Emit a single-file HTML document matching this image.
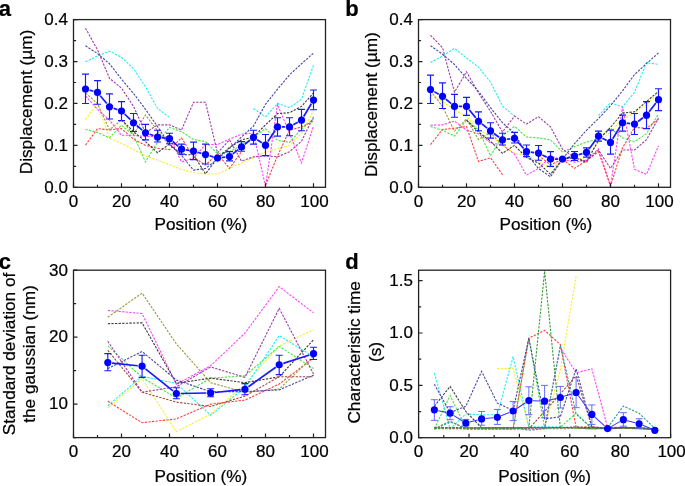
<!DOCTYPE html>
<html><head><meta charset="utf-8"><style>
html,body{margin:0;padding:0;background:#fff;}
svg{display:block;will-change:transform;}
text{font-family:"Liberation Sans", sans-serif;fill:#000;stroke:#000;stroke-width:0.22px;}
</style></head><body>
<svg width="685" height="486" viewBox="0 0 685 486">
<path d="M85.5 119.55 L97.5 103.45 L109.5 138.25 L121.5 143.28 L133.5 149.57 L145.5 155.86 L157.5 160.17 L169.5 164.79 L181.5 169.44 L193.5 172.5 L205.5 174.05 L217.5 174.05 L229.5 168.43 L241.5 162.98 L253.5 157.95 L265.5 151.66 L277.5 148.73 L289.5 145.54 L301.5 133.22 L313.5 110.58" stroke="#f4f030" stroke-width="1.1" fill="none" stroke-dasharray="2.3 1.3"/>
<path d="M85.5 61.82 L97.5 55.95 L109.5 51.13 L121.5 57.33 L133.5 68.65 L145.5 86.68 L157.5 108.48 L169.5 117.29" stroke="#22eef8" stroke-width="1.1" fill="none" stroke-dasharray="2.3 1.3"/>
<path d="M253.5 108.48 L265.5 116.87 L277.5 103.45 L289.5 107.64 L301.5 99.26 L313.5 65.3" stroke="#22eef8" stroke-width="1.1" fill="none" stroke-dasharray="2.3 1.3"/>
<path d="M85.5 129.44 L97.5 132.38 L109.5 137.83 L121.5 125.25 L133.5 135.31 L145.5 161.94 L157.5 142.15 L169.5 127.35 L181.5 131.62 L193.5 139.51 L205.5 141.6 L217.5 153.76 L229.5 151.66 L241.5 145.21 L253.5 136.99 L265.5 128.61 L277.5 140.34 L289.5 142.44 L301.5 129.02 L313.5 118.96" stroke="#44e844" stroke-width="1.1" fill="none" stroke-dasharray="2.3 1.3"/>
<path d="M85.5 95.9 L97.5 109.32 L109.5 120.22 L121.5 135.31 L133.5 135.31 L145.5 136.57 L157.5 136.57 L169.5 136.99 L181.5 161.94 L193.5 157.95 L205.5 144.54 L217.5 144.54 L229.5 139.09 L241.5 134.26 L253.5 133.01 L265.5 186.46 L277.5 104.41 L289.5 133.22 L301.5 162.98 L313.5 126.09" stroke="#ff44ff" stroke-width="1.1" fill="none" stroke-dasharray="2.3 1.3"/>
<path d="M85.5 145.17 L97.5 128.61 L109.5 129.86 L121.5 128.61 L133.5 139.09 L145.5 145.38 L157.5 148.31 L169.5 149.57 L181.5 137.83 L193.5 157.07 L205.5 165.08 L217.5 153.76 L229.5 168.43 L241.5 151.66" stroke="#ff4040" stroke-width="1.1" fill="none" stroke-dasharray="2.3 1.3"/>
<path d="M265.5 185.2 L277.5 155.86 L289.5 130.28 L301.5 126.93 L313.5 121.06" stroke="#ff4040" stroke-width="1.1" fill="none" stroke-dasharray="2.3 1.3"/>
<path d="M85.5 92.97 L97.5 103.45 L109.5 129.86 L121.5 119.93 L133.5 134.47 L145.5 114.94 L157.5 130.7 L169.5 145.38" stroke="#9a9a3a" stroke-width="1.1" fill="none" stroke-dasharray="2.3 1.3"/>
<path d="M121.5 119.8 L133.5 131.54 L145.5 141.6 L157.5 152.67 L169.5 144.03 L181.5 154.6 L193.5 154.77 L205.5 173.88 L217.5 157.95 L229.5 147.47 L241.5 139.92 L253.5 136.99 L265.5 124.83 L277.5 113.64 L289.5 112.67 L301.5 106.38 L313.5 92.97" stroke="#3a3a3a" stroke-width="1.1" fill="none" stroke-dasharray="2.3 1.3"/>
<path d="M85.5 28.19 L97.5 49.79 L109.5 78.3 L121.5 88.15 L133.5 106.38 L145.5 132.8 L157.5 124.83 L169.5 124.83 L181.5 130.07 L193.5 102.32 L205.5 102.32 L217.5 152.92 L229.5 139.92 L241.5 161.14 L253.5 156.86 L265.5 155.86 L277.5 156.86 L289.5 151.71 L301.5 141.18 L313.5 116.87" stroke="#a03aa8" stroke-width="1.1" fill="none" stroke-dasharray="2.3 1.3"/>
<path d="M85.5 45.76 L97.5 53.56 L109.5 63.75 L121.5 79.13 L133.5 93.39 L145.5 109.32 L157.5 126.51 L169.5 144.54 L181.5 155.44 L193.5 170.11 L205.5 168.43 L217.5 159.21 L229.5 148.31 L241.5 136.99 L253.5 126.09 L265.5 104.29 L277.5 89.2 L289.5 74.94 L301.5 63.75 L313.5 53.14" stroke="#4646a8" stroke-width="1.1" fill="none" stroke-dasharray="2.3 1.3"/>
<path d="M430.5 95.06 L442.5 101.48 L454.5 109.74 L466.5 116.45 L478.5 129.86 L490.5 135.73 L502.5 144.96 L514.5 153.13 L526.5 155.56 L538.5 161.1 L550.5 168.43 L562.5 161.31 L574.5 159.63 L586.5 157.53 L598.5 142.02 L610.5 131.96 L622.5 118.96 L634.5 112.93 L646.5 104.71 L658.5 92.34" stroke="#f4f030" stroke-width="1.1" fill="none" stroke-dasharray="2.3 1.3"/>
<path d="M430.5 62.57 L442.5 56.07 L454.5 48.28 L466.5 57.92 L478.5 67.18 L490.5 82.07 L502.5 106.13 L514.5 116.03" stroke="#22eef8" stroke-width="1.1" fill="none" stroke-dasharray="2.3 1.3"/>
<path d="M598.5 115.61 L610.5 102.82 L622.5 106.8 L634.5 92.34 L646.5 62.57 L658.5 64.42" stroke="#22eef8" stroke-width="1.1" fill="none" stroke-dasharray="2.3 1.3"/>
<path d="M430.5 126.51 L442.5 130.28 L454.5 136.15 L466.5 120.22 L478.5 129.86 L490.5 155.86 L502.5 135.73 L514.5 126.3 L526.5 136.99 L538.5 137.83 L550.5 139.92 L562.5 152.08 L574.5 146.63 L586.5 142.02 L598.5 139.09 L610.5 128.19 L622.5 137.83 L634.5 141.73 L646.5 133.64 L658.5 113.93" stroke="#44e844" stroke-width="1.1" fill="none" stroke-dasharray="2.3 1.3"/>
<path d="M430.5 125.25 L442.5 124.83 L454.5 121.06 L466.5 130.28 L478.5 133.64 L490.5 142.86 L502.5 144.96 L514.5 154.18 L526.5 175.14 L538.5 168.43 L550.5 156.69 L562.5 159.21 L574.5 162.15 L586.5 160.05 L598.5 148.73 L610.5 186.04 L622.5 106.8 L634.5 169.19 L646.5 174.43 L658.5 145.79" stroke="#ff44ff" stroke-width="1.1" fill="none" stroke-dasharray="2.3 1.3"/>
<path d="M430.5 144.62 L442.5 129.44 L454.5 128.35 L466.5 126.51 L478.5 161.47 L490.5 157.74 L502.5 174.72" stroke="#ff4040" stroke-width="1.1" fill="none" stroke-dasharray="2.3 1.3"/>
<path d="M538.5 155.44 L550.5 164.83 L562.5 159.21 L574.5 168.43 L586.5 160.47 L598.5 151.66 L610.5 186.04 L622.5 147.89 L634.5 127.35 L646.5 128.35 L658.5 118.96" stroke="#ff4040" stroke-width="1.1" fill="none" stroke-dasharray="2.3 1.3"/>
<path d="M430.5 90.87 L442.5 106.38 L454.5 131.12 L466.5 118.96 L478.5 139.51 L490.5 132.8 L502.5 145.38" stroke="#9a9a3a" stroke-width="1.1" fill="none" stroke-dasharray="2.3 1.3"/>
<path d="M466.5 120.22 L478.5 131.96 L490.5 141.18 L502.5 153.34 L514.5 145.38 L526.5 157.53 L538.5 162.98 L550.5 174.3 L562.5 159.21 L574.5 157.53 L586.5 162.56 L598.5 139.92 L610.5 127.35 L622.5 113.09 L634.5 111.84 L646.5 101.61 L658.5 91.29" stroke="#3a3a3a" stroke-width="1.1" fill="none" stroke-dasharray="2.3 1.3"/>
<path d="M430.5 35.32 L442.5 47.69 L454.5 92.13 L466.5 71.84 L478.5 92.97 L490.5 111.42 L502.5 131.96 L514.5 116.11 L526.5 124.08 L538.5 116.66 L550.5 126.93 L562.5 149.15 L574.5 157.53 L586.5 161.31 L598.5 149.99 L610.5 168.43 L622.5 149.99 L634.5 149.99 L646.5 139.67 L658.5 118.12" stroke="#a03aa8" stroke-width="1.1" fill="none" stroke-dasharray="2.3 1.3"/>
<path d="M430.5 45.59 L442.5 54.23 L454.5 64.46 L466.5 78.3 L478.5 91.29 L490.5 107.64 L502.5 122.74 L514.5 133.64 L526.5 153.76 L538.5 168.43 L550.5 176.82 L562.5 159.21 L574.5 143.7 L586.5 130.28 L598.5 118.54 L610.5 105.76 L622.5 90.87 L634.5 74.61 L646.5 63.5 L658.5 52.93" stroke="#4646a8" stroke-width="1.1" fill="none" stroke-dasharray="2.3 1.3"/>
<path d="M107.79 408 L142.07 378.61 L176.36 431.77 L210.64 414.16 L244.93 384.03 L279.21 345.86 L313.5 329.79" stroke="#f4f030" stroke-width="1.1" fill="none" stroke-dasharray="2.3 1.3"/>
<path d="M107.79 405.73 L142.07 376.33 L176.36 383.36 L210.64 415.24 L244.93 387.38 L279.21 335.62 L313.5 356.58" stroke="#22eef8" stroke-width="1.1" fill="none" stroke-dasharray="2.3 1.3"/>
<path d="M107.79 345.86 L142.07 377.47 L176.36 398.09 L210.64 378.14 L244.93 375.8 L279.21 346.33 L313.5 368.63" stroke="#44e844" stroke-width="1.1" fill="none" stroke-dasharray="2.3 1.3"/>
<path d="M107.79 310.38 L142.07 313.52 L176.36 384.23 L210.64 365.75 L244.93 333.14 L279.21 286.61 L313.5 312.79" stroke="#ff44ff" stroke-width="1.1" fill="none" stroke-dasharray="2.3 1.3"/>
<path d="M107.79 401.24 L142.07 422.73 L176.36 418.85 L210.64 404.12 L244.93 400.1 L279.21 384.03 L313.5 357.92" stroke="#ff4040" stroke-width="1.1" fill="none" stroke-dasharray="2.3 1.3"/>
<path d="M107.79 317.21 L142.07 293.1 L176.36 343.86 L210.64 382.69 L244.93 392.4 L279.21 389.12 L313.5 356.24" stroke="#9a9a3a" stroke-width="1.1" fill="none" stroke-dasharray="2.3 1.3"/>
<path d="M107.79 323.7 L142.07 322.83 L176.36 383.36 L210.64 378.14 L244.93 382.69 L279.21 376.8 L313.5 339.84" stroke="#3a3a3a" stroke-width="1.1" fill="none" stroke-dasharray="2.3 1.3"/>
<path d="M107.79 350.35 L142.07 392.2 L176.36 402.11 L210.64 406.53 L244.93 396.08 L279.21 376.8 L313.5 376.8" stroke="#a04a3a" stroke-width="1.1" fill="none" stroke-dasharray="2.3 1.3"/>
<path d="M107.79 341.31 L142.07 392.2 L176.36 386.71 L210.64 366.96 L244.93 377.34 L279.21 308.37 L313.5 373.99" stroke="#a03aa8" stroke-width="1.1" fill="none" stroke-dasharray="2.3 1.3"/>
<path d="M107.79 368.63 L142.07 351.49 L176.36 380.01 L210.64 391.73 L244.93 391.6 L279.21 389.92 L313.5 375.13" stroke="#4646a8" stroke-width="1.1" fill="none" stroke-dasharray="2.3 1.3"/>
<path d="M497.35 368.61 L513.1 368.61 L528.85 426.92 L544.6 427.75 L560.35 369.65 L576.1 276.17" stroke="#f4f030" stroke-width="1.1" fill="none" stroke-dasharray="2.3 1.3"/>
<path d="M434.35 428.28 L450.1 427.75 L465.85 428.8 L481.6 428.8 L497.35 428.28" stroke="#f4f030" stroke-width="1.1" fill="none" stroke-dasharray="2.3 1.3"/>
<path d="M434.35 373.21 L450.1 428.91 L465.85 413.94 L481.6 414.88 L497.35 414.67 L513.1 356.46 L528.85 426.92 L544.6 426.92 L560.35 426.92 L576.1 428.28 L591.85 428.8 L607.6 428.8 L623.35 428.28 L639.1 428.8 L654.85 429.22" stroke="#22eef8" stroke-width="1.1" fill="none" stroke-dasharray="2.3 1.3"/>
<path d="M434.35 428.8 L450.1 395.41 L465.85 428.07 L481.6 428.8 L497.35 428.8 L513.1 428.8 L528.85 338.25 L544.6 428.28 L560.35 427.34 L576.1 413.1 L591.85 428.38 L607.6 428.38 L623.35 427.75 L639.1 428.28 L654.85 429.22" stroke="#44e844" stroke-width="1.1" fill="none" stroke-dasharray="2.3 1.3"/>
<path d="M434.35 428.28 L450.1 428.28 L465.85 428.28 L481.6 428.28 L497.35 428.28 L513.1 428.28 L528.85 428.28 L544.6 428.28 L560.35 347.67 L576.1 372.79 L591.85 368.82 L607.6 427.44 L623.35 427.34 L639.1 428.8 L654.85 429.32" stroke="#ff44ff" stroke-width="1.1" fill="none" stroke-dasharray="2.3 1.3"/>
<path d="M434.35 428.28 L450.1 427.75 L465.85 428.8 L481.6 428.8 L497.35 428.8 L513.1 428.8 L528.85 338.04 L544.6 330.4 L560.35 344.63 L576.1 427.44 L591.85 426.92 L607.6 428.28 L623.35 427.75 L639.1 428.28 L654.85 428.8" stroke="#ff4040" stroke-width="1.1" fill="none" stroke-dasharray="2.3 1.3"/>
<path d="M434.35 428.8 L450.1 420.95 L465.85 429.22 L481.6 429.22 L497.35 429.22 L513.1 429.22 L528.85 428.8 L544.6 428.8 L560.35 428.8 L576.1 428.28 L591.85 428.8 L607.6 428.8 L623.35 428.28 L639.1 428.8 L654.85 429.22" stroke="#9a9a3a" stroke-width="1.1" fill="none" stroke-dasharray="2.3 1.3"/>
<path d="M434.35 406.29 L450.1 386.4 L465.85 411.53 L481.6 427.75 L497.35 427.75 L513.1 427.75 L528.85 427.75 L544.6 427.75 L560.35 427.75 L576.1 426.92 L591.85 427.75 L607.6 428.8 L623.35 427.75 L639.1 428.28 L654.85 429.22" stroke="#3a3a3a" stroke-width="1.1" fill="none" stroke-dasharray="2.3 1.3"/>
<path d="M434.35 427.75 L450.1 427.75 L465.85 427.75 L481.6 427.75 L497.35 427.75 L513.1 427.75 L528.85 428.8 L544.6 411.53 L560.35 393.73 L576.1 375.93 L591.85 426.92 L607.6 428.8 L623.35 427.75 L639.1 428.28 L654.85 429.22" stroke="#a04a3a" stroke-width="1.1" fill="none" stroke-dasharray="2.3 1.3"/>
<path d="M434.35 427.34 L450.1 427.75 L465.85 427.34 L481.6 427.75 L497.35 427.75 L513.1 427.75 L528.85 427.75 L544.6 427.75 L560.35 427.75 L576.1 427.75 L591.85 428.28 L607.6 428.28 L623.35 427.34 L639.1 427.75 L654.85 428.8" stroke="#a03aa8" stroke-width="1.1" fill="none" stroke-dasharray="2.3 1.3"/>
<path d="M434.35 429.22 L450.1 422 L465.85 427.75 L481.6 427.75 L497.35 427.75 L513.1 427.75 L528.85 430.16 L544.6 428.8 L560.35 345.16 L576.1 414.04 L591.85 428.38 L607.6 427.65 L623.35 406.19 L639.1 413.31 L654.85 428.49" stroke="#2a9a9a" stroke-width="1.1" fill="none" stroke-dasharray="2.3 1.3"/>
<path d="M434.35 428.8 L450.1 428.8 L465.85 428.8 L481.6 428.8 L497.35 428.8 L513.1 428.8 L528.85 427.75 L544.6 271.25 L560.35 427.75 L576.1 427.75 L591.85 428.8 L607.6 428.28 L623.35 427.75 L639.1 428.28 L654.85 428.8" stroke="#3a9a3a" stroke-width="1.1" fill="none" stroke-dasharray="2.3 1.3"/>
<path d="M434.35 384.31 L450.1 412.57 L465.85 406.29 L481.6 371.33 L497.35 403.15 L513.1 410.48 L528.85 338.04 L544.6 418.86 L560.35 416.76 L576.1 368.82 L591.85 426.92 L607.6 428.28 L623.35 427.34 L639.1 427.75 L654.85 428.8" stroke="#4646a8" stroke-width="1.1" fill="none" stroke-dasharray="2.3 1.3"/>
<rect x="73.5" y="19.6" width="252" height="167.7" fill="none" stroke="#222" stroke-width="1.3"/>
<path d="M73.5 187.3v-4 M121.5 187.3v-4 M169.5 187.3v-4 M217.5 187.3v-4 M265.5 187.3v-4 M313.5 187.3v-4 M97.5 187.3v-2.6 M145.5 187.3v-2.6 M193.5 187.3v-2.6 M241.5 187.3v-2.6 M289.5 187.3v-2.6 M73.5 187.3h4 M73.5 145.38h4 M73.5 103.45h4 M73.5 61.53h4 M73.5 19.6h4 M73.5 166.34h2.6 M73.5 124.41h2.6 M73.5 82.49h2.6 M73.5 40.56h2.6" stroke="#222" stroke-width="1.2" fill="none"/>
<text x="73.5" y="206.6" text-anchor="middle" font-size="17.0">0</text>
<text x="121.5" y="206.6" text-anchor="middle" font-size="17.0">20</text>
<text x="169.5" y="206.6" text-anchor="middle" font-size="17.0">40</text>
<text x="217.5" y="206.6" text-anchor="middle" font-size="17.0">60</text>
<text x="265.5" y="206.6" text-anchor="middle" font-size="17.0">80</text>
<text x="314.5" y="206.6" text-anchor="middle" font-size="17.0">100</text>
<text x="67.9" y="192.6" text-anchor="end" font-size="17.0">0.0</text>
<text x="67.9" y="150.68" text-anchor="end" font-size="17.0">0.1</text>
<text x="67.9" y="108.75" text-anchor="end" font-size="17.0">0.2</text>
<text x="67.9" y="66.83" text-anchor="end" font-size="17.0">0.3</text>
<text x="67.9" y="24.9" text-anchor="end" font-size="17.0">0.4</text>
<rect x="418.5" y="19.6" width="252" height="167.7" fill="none" stroke="#222" stroke-width="1.3"/>
<path d="M418.5 187.3v-4 M466.5 187.3v-4 M514.5 187.3v-4 M562.5 187.3v-4 M610.5 187.3v-4 M658.5 187.3v-4 M442.5 187.3v-2.6 M490.5 187.3v-2.6 M538.5 187.3v-2.6 M586.5 187.3v-2.6 M634.5 187.3v-2.6 M418.5 187.3h4 M418.5 145.38h4 M418.5 103.45h4 M418.5 61.53h4 M418.5 19.6h4 M418.5 166.34h2.6 M418.5 124.41h2.6 M418.5 82.49h2.6 M418.5 40.56h2.6" stroke="#222" stroke-width="1.2" fill="none"/>
<text x="418.5" y="206.6" text-anchor="middle" font-size="17.0">0</text>
<text x="466.5" y="206.6" text-anchor="middle" font-size="17.0">20</text>
<text x="514.5" y="206.6" text-anchor="middle" font-size="17.0">40</text>
<text x="562.5" y="206.6" text-anchor="middle" font-size="17.0">60</text>
<text x="610.5" y="206.6" text-anchor="middle" font-size="17.0">80</text>
<text x="659.5" y="206.6" text-anchor="middle" font-size="17.0">100</text>
<text x="412.9" y="192.6" text-anchor="end" font-size="17.0">0.0</text>
<text x="412.9" y="150.68" text-anchor="end" font-size="17.0">0.1</text>
<text x="412.9" y="108.75" text-anchor="end" font-size="17.0">0.2</text>
<text x="412.9" y="66.83" text-anchor="end" font-size="17.0">0.3</text>
<text x="412.9" y="24.9" text-anchor="end" font-size="17.0">0.4</text>
<rect x="73.5" y="270.2" width="252" height="167.4" fill="none" stroke="#222" stroke-width="1.3"/>
<path d="M73.5 437.6v-4 M121.5 437.6v-4 M169.5 437.6v-4 M217.5 437.6v-4 M265.5 437.6v-4 M313.5 437.6v-4 M97.5 437.6v-2.6 M145.5 437.6v-2.6 M193.5 437.6v-2.6 M241.5 437.6v-2.6 M289.5 437.6v-2.6 M73.5 404.12h4 M73.5 337.16h4 M73.5 270.2h4 M73.5 437.6h2.6 M73.5 370.64h2.6 M73.5 303.68h2.6" stroke="#222" stroke-width="1.2" fill="none"/>
<text x="73.5" y="456.9" text-anchor="middle" font-size="17.0">0</text>
<text x="121.5" y="456.9" text-anchor="middle" font-size="17.0">20</text>
<text x="169.5" y="456.9" text-anchor="middle" font-size="17.0">40</text>
<text x="217.5" y="456.9" text-anchor="middle" font-size="17.0">60</text>
<text x="265.5" y="456.9" text-anchor="middle" font-size="17.0">80</text>
<text x="314.5" y="456.9" text-anchor="middle" font-size="17.0">100</text>
<text x="67.9" y="409.42" text-anchor="end" font-size="17.0">10</text>
<text x="67.9" y="342.46" text-anchor="end" font-size="17.0">20</text>
<text x="67.9" y="275.5" text-anchor="end" font-size="17.0">30</text>
<rect x="418.6" y="270.2" width="252" height="167.5" fill="none" stroke="#222" stroke-width="1.3"/>
<path d="M418.6 437.7v-4 M469 437.7v-4 M519.4 437.7v-4 M569.8 437.7v-4 M620.2 437.7v-4 M670.6 437.7v-4 M443.8 437.7v-2.6 M494.2 437.7v-2.6 M544.6 437.7v-2.6 M595 437.7v-2.6 M645.4 437.7v-2.6 M418.6 437.7h4 M418.6 385.36h4 M418.6 333.01h4 M418.6 280.67h4 M418.6 411.53h2.6 M418.6 359.18h2.6 M418.6 306.84h2.6" stroke="#222" stroke-width="1.2" fill="none"/>
<text x="418.6" y="457" text-anchor="middle" font-size="17.0">0</text>
<text x="469" y="457" text-anchor="middle" font-size="17.0">20</text>
<text x="519.4" y="457" text-anchor="middle" font-size="17.0">40</text>
<text x="569.8" y="457" text-anchor="middle" font-size="17.0">60</text>
<text x="620.2" y="457" text-anchor="middle" font-size="17.0">80</text>
<text x="671.6" y="457" text-anchor="middle" font-size="17.0">100</text>
<text x="413" y="443" text-anchor="end" font-size="17.0">0.0</text>
<text x="413" y="390.66" text-anchor="end" font-size="17.0">0.5</text>
<text x="413" y="338.31" text-anchor="end" font-size="17.0">1.0</text>
<text x="413" y="285.97" text-anchor="end" font-size="17.0">1.5</text>
<path d="M89.64 90.16L93.36 91.21 M100.25 95.69L106.75 103.5 M113.56 108.22L117.44 109.58 M124.57 114L130.43 119.73 M136.79 125.5L142.21 130.03 M149.56 134.22L153.44 135.57 M161.76 137.59L165.24 138.07 M172.74 141.5L178.26 146.32 M185.75 149.83L189.25 150.39 M197.63 152.29L201.37 153.39 M209.63 155.78L213.37 156.85 M221.77 157.51L225.23 157.09 M232.85 153.87L238.15 149.58 M244.87 144.22L250.13 140.07 M257.11 139.74L261.89 142.83 M267.86 141.57L275.14 130.52 M281.8 126.93L285.2 126.93 M293.25 124.83L297.75 122.32 M303.7 116.53L311.3 103.79" stroke="#1a1aff" stroke-width="1.7" fill="none"/>
<path d="M85.5 74.1V103.45 M82 74.1h7 M82 103.45h7 M97.5 80.56V104.29 M94 80.56h7 M94 104.29h7 M109.5 93.81V118.96 M106 93.81h7 M106 118.96h7 M121.5 101.56V120.64 M118 101.56h7 M118 120.64h7 M133.5 113.51V131.54 M130 113.51h7 M130 131.54h7 M145.5 124.41V139.92 M142 124.41h7 M142 139.92h7 M157.5 130.28V142.02 M154 130.28h7 M154 142.02h7 M169.5 133.22V143.7 M166 133.22h7 M166 143.7h7 M181.5 144.12V154.18 M178 144.12h7 M178 154.18h7 M193.5 142.19V159.63 M190 142.19h7 M190 159.63h7 M205.5 144.12V163.95 M202 144.12h7 M202 163.95h7 M229.5 151.66V160.89 M226 151.66h7 M226 160.89h7 M241.5 141.6V151.24 M238 141.6h7 M238 151.24h7 M253.5 130.28V144.12 M250 130.28h7 M250 144.12h7 M265.5 134.47V155.56 M262 134.47h7 M262 155.56h7 M277.5 117.7V136.15 M274 117.7h7 M274 136.15h7 M289.5 117.7V135.73 M286 117.7h7 M286 135.73h7 M301.5 109.32V130.7 M298 109.32h7 M298 130.7h7 M313.5 90.03V109.74 M310 90.03h7 M310 109.74h7" stroke="#1a1aff" stroke-width="1.15" fill="none"/>
<circle cx="85.5" cy="88.99" r="3.6" fill="#0000ff"/>
<circle cx="97.5" cy="92.38" r="3.6" fill="#0000ff"/>
<circle cx="109.5" cy="106.8" r="3.6" fill="#0000ff"/>
<circle cx="121.5" cy="111" r="3.6" fill="#0000ff"/>
<circle cx="133.5" cy="122.74" r="3.6" fill="#0000ff"/>
<circle cx="145.5" cy="132.8" r="3.6" fill="#0000ff"/>
<circle cx="157.5" cy="136.99" r="3.6" fill="#0000ff"/>
<circle cx="169.5" cy="138.67" r="3.6" fill="#0000ff"/>
<circle cx="181.5" cy="149.15" r="3.6" fill="#0000ff"/>
<circle cx="193.5" cy="151.08" r="3.6" fill="#0000ff"/>
<circle cx="205.5" cy="154.6" r="3.6" fill="#0000ff"/>
<circle cx="217.5" cy="158.04" r="3.6" fill="#0000ff"/>
<circle cx="229.5" cy="156.57" r="3.6" fill="#0000ff"/>
<circle cx="241.5" cy="146.88" r="3.6" fill="#0000ff"/>
<circle cx="253.5" cy="137.41" r="3.6" fill="#0000ff"/>
<circle cx="265.5" cy="145.17" r="3.6" fill="#0000ff"/>
<circle cx="277.5" cy="126.93" r="3.6" fill="#0000ff"/>
<circle cx="289.5" cy="126.93" r="3.6" fill="#0000ff"/>
<circle cx="301.5" cy="120.22" r="3.6" fill="#0000ff"/>
<circle cx="313.5" cy="100.1" r="3.6" fill="#0000ff"/>
<path d="M434.24 91.62L438.76 94.19 M445.79 99.09L451.21 103.62 M458.8 106.38L462.2 106.38 M469.2 109.73L475.8 117.88 M481.85 123.93L487.15 128.21 M493.96 133.47L499.04 137.24 M506.77 139.26L510.23 138.83 M517.37 141.49L523.63 148.46 M530.77 152.16L534.23 152.55 M542.35 154.97L546.65 157.12 M554.8 159.04L558.2 159.04 M566.67 158.01L570.33 157.1 M578.61 154.8L582.39 153.64 M589.06 148.92L595.94 139.61 M602.31 138.15L606.69 140.44 M612.74 138.77L620.26 126.41 M626.78 123.18L630.22 123.55 M637.97 121.45L643.03 117.73 M649.13 111.79L655.87 103.08" stroke="#1a1aff" stroke-width="1.7" fill="none"/>
<path d="M430.5 75.11V103.53 M427 75.11h7 M427 103.53h7 M442.5 82.91V108.48 M439 82.91h7 M439 108.48h7 M454.5 94.35V117.29 M451 94.35h7 M451 117.29h7 M466.5 97.37V115.31 M463 97.37h7 M463 115.31h7 M478.5 111.84V130.7 M475 111.84h7 M475 130.7h7 M490.5 122.74V138.08 M487 122.74h7 M487 138.08h7 M502.5 133.22V144.96 M499 133.22h7 M499 144.96h7 M514.5 132.38V142.99 M511 132.38h7 M511 142.99h7 M526.5 144.96V156.57 M523 144.96h7 M523 156.57h7 M538.5 145.46V160.26 M535 145.46h7 M535 160.26h7 M550.5 151.66V166.42 M547 151.66h7 M547 166.42h7 M574.5 151.45V160.47 M571 151.45h7 M571 160.47h7 M586.5 147.89V157.11 M583 147.89h7 M583 157.11h7 M598.5 131.12V141.18 M595 131.12h7 M595 141.18h7 M610.5 130.11V154.18 M607 130.11h7 M607 154.18h7 M622.5 115.19V131.12 M619 115.19h7 M619 131.12h7 M634.5 113.51V134.47 M631 113.51h7 M631 134.47h7 M646.5 101.56V128.61 M643 101.56h7 M643 128.61h7 M658.5 88.78V110.58 M655 88.78h7 M655 110.58h7" stroke="#1a1aff" stroke-width="1.15" fill="none"/>
<circle cx="430.5" cy="89.49" r="3.6" fill="#0000ff"/>
<circle cx="442.5" cy="96.32" r="3.6" fill="#0000ff"/>
<circle cx="454.5" cy="106.38" r="3.6" fill="#0000ff"/>
<circle cx="466.5" cy="106.38" r="3.6" fill="#0000ff"/>
<circle cx="478.5" cy="121.23" r="3.6" fill="#0000ff"/>
<circle cx="490.5" cy="130.91" r="3.6" fill="#0000ff"/>
<circle cx="502.5" cy="139.8" r="3.6" fill="#0000ff"/>
<circle cx="514.5" cy="138.29" r="3.6" fill="#0000ff"/>
<circle cx="526.5" cy="151.66" r="3.6" fill="#0000ff"/>
<circle cx="538.5" cy="153.05" r="3.6" fill="#0000ff"/>
<circle cx="550.5" cy="159.04" r="3.6" fill="#0000ff"/>
<circle cx="562.5" cy="159.04" r="3.6" fill="#0000ff"/>
<circle cx="574.5" cy="156.07" r="3.6" fill="#0000ff"/>
<circle cx="586.5" cy="152.38" r="3.6" fill="#0000ff"/>
<circle cx="598.5" cy="136.15" r="3.6" fill="#0000ff"/>
<circle cx="610.5" cy="142.44" r="3.6" fill="#0000ff"/>
<circle cx="622.5" cy="122.74" r="3.6" fill="#0000ff"/>
<circle cx="634.5" cy="123.99" r="3.6" fill="#0000ff"/>
<circle cx="646.5" cy="115.19" r="3.6" fill="#0000ff"/>
<circle cx="658.5" cy="99.68" r="3.6" fill="#0000ff"/>
<path d="M112.06 363.06L137.8 365.77 M145.43 368.9L173 390.92 M180.66 393.52L206.34 393.02 M214.92 392.48L240.65 389.71 M248.43 386.75L275.72 367.25 M283.3 363.42L309.41 354.96" stroke="#1a1aff" stroke-width="1.7" fill="none"/>
<path d="M107.79 353.63V370.71 M104.29 353.63h7 M104.29 370.71h7 M142.07 355.24V377.34 M138.57 355.24h7 M138.57 377.34h7 M176.36 387.71V398.76 M172.86 387.71h7 M172.86 398.76h7 M210.64 388.72V396.75 M207.14 388.72h7 M207.14 396.75h7 M244.93 383.63V394.75 M241.43 383.63h7 M241.43 394.75h7 M279.21 355.24V374.66 M275.71 355.24h7 M275.71 374.66h7 M313.5 347.2V359.52 M310 347.2h7 M310 359.52h7" stroke="#1a1aff" stroke-width="1.15" fill="none"/>
<circle cx="107.79" cy="362.6" r="3.6" fill="#0000ff"/>
<circle cx="142.07" cy="366.22" r="3.6" fill="#0000ff"/>
<circle cx="176.36" cy="393.61" r="3.6" fill="#0000ff"/>
<circle cx="210.64" cy="392.94" r="3.6" fill="#0000ff"/>
<circle cx="244.93" cy="389.25" r="3.6" fill="#0000ff"/>
<circle cx="279.21" cy="364.75" r="3.6" fill="#0000ff"/>
<circle cx="313.5" cy="353.63" r="3.6" fill="#0000ff"/>
<path d="M438.26 410.69L446.19 412.37 M453.49 415.33L462.46 420.97 M469.72 422.08L477.73 419.98 M485.58 418.54L493.37 417.71 M501.07 415.8L509.38 412.49 M516.43 408.79L525.52 402.75 M532.85 400.7L540.6 401 M548.5 400.26L556.45 398.41 M564.16 396.28L572.29 393.69 M578.43 395.73L589.52 411.21 M594.83 417.13L604.62 425.92 M611.08 426.62L619.87 421.66 M627.22 420.7L635.23 422.77 M642.8 425.31L651.15 428.77" stroke="#3a3aff" stroke-width="1.05" fill="none"/>
<path d="M434.35 399.7V420.32 M430.85 399.7h7 M430.85 420.32h7 M450.1 406.71V419.69 M446.6 406.71h7 M446.6 419.69h7 M465.85 419.38V425.77 M462.35 419.38h7 M462.35 425.77h7 M481.6 411.42V425.24 M478.1 411.42h7 M478.1 425.24h7 M497.35 409.43V424.4 M493.85 409.43h7 M493.85 424.4h7 M513.1 401.58V420.64 M509.6 401.58h7 M509.6 420.64h7 M528.85 386.82V414.67 M525.35 386.82h7 M525.35 414.67h7 M544.6 385.36V417.81 M541.1 385.36h7 M541.1 417.81h7 M560.35 386.4V407.97 M556.85 386.4h7 M556.85 407.97h7 M576.1 377.5V407.65 M572.6 377.5h7 M572.6 407.65h7 M591.85 404.93V424.4 M588.35 404.93h7 M588.35 424.4h7 M607.6 427.75V429.85 M604.1 427.75h7 M604.1 429.85h7 M623.35 412.68V426.18 M619.85 412.68h7 M619.85 426.18h7 M639.1 418.75V428.07 M635.6 418.75h7 M635.6 428.07h7" stroke="#6a6aff" stroke-width="1.0" fill="none"/>
<circle cx="434.35" cy="409.85" r="3.6" fill="#0000ff"/>
<circle cx="450.1" cy="413.2" r="3.6" fill="#0000ff"/>
<circle cx="465.85" cy="423.1" r="3.6" fill="#0000ff"/>
<circle cx="481.6" cy="418.96" r="3.6" fill="#0000ff"/>
<circle cx="497.35" cy="417.29" r="3.6" fill="#0000ff"/>
<circle cx="513.1" cy="411" r="3.6" fill="#0000ff"/>
<circle cx="528.85" cy="400.54" r="3.6" fill="#0000ff"/>
<circle cx="544.6" cy="401.16" r="3.6" fill="#0000ff"/>
<circle cx="560.35" cy="397.5" r="3.6" fill="#0000ff"/>
<circle cx="576.1" cy="392.48" r="3.6" fill="#0000ff"/>
<circle cx="591.85" cy="414.46" r="3.6" fill="#0000ff"/>
<circle cx="607.6" cy="428.59" r="3.6" fill="#0000ff"/>
<circle cx="623.35" cy="419.69" r="3.6" fill="#0000ff"/>
<circle cx="639.1" cy="423.78" r="3.6" fill="#0000ff"/>
<circle cx="654.85" cy="430.3" r="3.6" fill="#0000ff"/>
<text x="-1.2" y="15.7" font-size="22" font-weight="bold">a</text>
<text x="345.3" y="15.7" font-size="22" font-weight="bold">b</text>
<text x="-1.2" y="268.7" font-size="22" font-weight="bold">c</text>
<text x="345.2" y="268.8" font-size="22" font-weight="bold">d</text>
<text x="200.9" y="230" text-anchor="middle" font-size="17.2">Position (%)</text>
<text x="545.9" y="230" text-anchor="middle" font-size="17.2">Position (%)</text>
<text x="200.9" y="481.9" text-anchor="middle" font-size="17.2">Position (%)</text>
<text x="544.7" y="482" text-anchor="middle" font-size="17.2">Position (%)</text>
<text transform="translate(32.3,102) rotate(-90)" text-anchor="middle" font-size="17.2">Displacement (µm)</text>
<text transform="translate(377.3,104.6) rotate(-90)" text-anchor="middle" font-size="17.2">Displacement (µm)</text>
<text transform="translate(14.5,354) rotate(-90)" text-anchor="middle" font-size="17.2">Standard deviation of</text>
<text transform="translate(35.4,354) rotate(-90)" text-anchor="middle" font-size="17.2">the gaussian (nm)</text>
<text transform="translate(360,352.4) rotate(-90)" text-anchor="middle" font-size="17.2">Characteristic time</text>
<text transform="translate(380.5,352) rotate(-90)" text-anchor="middle" font-size="17.2">(s)</text>
</svg></body></html>
